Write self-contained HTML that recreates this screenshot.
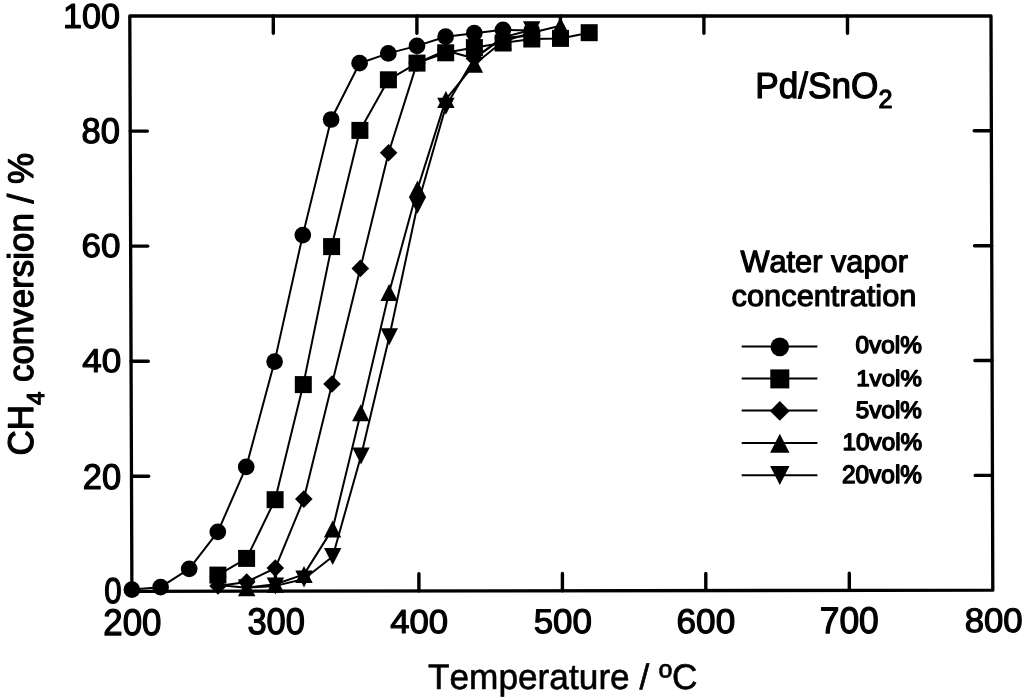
<!DOCTYPE html>
<html><head><meta charset="utf-8"><style>
html,body{margin:0;padding:0;background:#fff;}
svg{display:block;}
text{text-rendering:geometricPrecision;font-kerning:none;font-feature-settings:"kern" 0;font-family:"Liberation Sans",Arial,sans-serif;fill:#000;stroke:#000;stroke-width:1.2px;stroke-linejoin:round;}
.lg{stroke-width:1.5px;}
.ti{stroke-width:0.6px;}
.t{font-size:35px;}
.h{font-size:31.5px;}
.lg{font-size:25.5px;}
.ln{fill:none;stroke:#000;stroke-width:2.0;stroke-linejoin:round;}
</style></head><body>
<svg width="1024" height="700" viewBox="0 0 1024 700">
<rect width="1024" height="700" fill="#fff"/>
<g fill="#000">
<polyline class="ln" points="131.9,589.6 160.6,587.2 189.2,568.8 217.8,531.9 246.2,466.9 274.6,361.6 302.8,235.1 331.1,119.5 359.6,63.2 388.3,53.4 417.0,45.9 445.6,36.7 474.3,33.2 503.0,29.8 531.7,30.4"/>
<polyline class="ln" points="217.9,575.1 246.6,558.4 275.1,499.7 303.3,384.6 331.6,246.6 359.9,130.4 388.4,79.8 417.0,63.1 445.7,52.8 474.4,47.6 503.1,43.0 531.8,39.0 560.5,38.4 589.2,32.7"/>
<polyline class="ln" points="218.0,586.0 246.7,582.0 275.3,568.1 303.8,499.1 332.0,384.0 360.3,268.4 388.6,152.8 417.0,63.1 445.7,50.5 474.4,58.5 503.1,37.8 531.8,35.5"/>
<polyline class="ln" points="246.7,587.7 275.4,584.2 304.0,574.4 332.6,528.9 360.8,412.8 389.1,292.6 417.5,189.1 445.9,99.4 474.4,64.3 503.1,41.3 531.8,32.7 560.4,25.8"/>
<polyline class="ln" points="218.0,584.9 246.7,587.7 275.4,585.9 304.0,579.0 332.7,556.5 361.0,455.9 389.3,336.8 417.5,205.2 445.9,106.3 474.4,58.0 503.1,37.3 531.7,29.8"/>
<circle cx="131.9" cy="589.6" r="8.35"/>
<circle cx="160.6" cy="587.2" r="8.35"/>
<circle cx="189.2" cy="568.8" r="8.35"/>
<circle cx="217.8" cy="531.9" r="8.35"/>
<circle cx="246.2" cy="466.9" r="8.35"/>
<circle cx="274.6" cy="361.6" r="8.35"/>
<circle cx="302.8" cy="235.1" r="8.35"/>
<circle cx="331.1" cy="119.5" r="8.35"/>
<circle cx="359.6" cy="63.2" r="8.35"/>
<circle cx="388.3" cy="53.4" r="8.35"/>
<circle cx="417.0" cy="45.9" r="8.35"/>
<circle cx="445.6" cy="36.7" r="8.35"/>
<circle cx="474.3" cy="33.2" r="8.35"/>
<circle cx="503.0" cy="29.8" r="8.35"/>
<circle cx="531.7" cy="30.4" r="8.35"/>
<rect x="209.4" y="566.6" width="17.0" height="17.0"/>
<rect x="238.1" y="549.9" width="17.0" height="17.0"/>
<rect x="266.6" y="491.2" width="17.0" height="17.0"/>
<rect x="294.8" y="376.1" width="17.0" height="17.0"/>
<rect x="323.1" y="238.1" width="17.0" height="17.0"/>
<rect x="351.4" y="121.9" width="17.0" height="17.0"/>
<rect x="379.9" y="71.3" width="17.0" height="17.0"/>
<rect x="408.5" y="54.6" width="17.0" height="17.0"/>
<rect x="437.2" y="44.3" width="17.0" height="17.0"/>
<rect x="465.9" y="39.1" width="17.0" height="17.0"/>
<rect x="494.6" y="34.5" width="17.0" height="17.0"/>
<rect x="523.3" y="30.5" width="17.0" height="17.0"/>
<rect x="552.0" y="29.9" width="17.0" height="17.0"/>
<rect x="580.7" y="24.2" width="17.0" height="17.0"/>
<polygon points="218.0,577.2 226.8,586.0 218.0,594.8 209.2,586.0"/>
<polygon points="246.7,573.2 255.5,582.0 246.7,590.8 237.9,582.0"/>
<polygon points="275.3,559.3 284.1,568.1 275.3,576.9 266.5,568.1"/>
<polygon points="303.8,490.3 312.6,499.1 303.8,507.9 295.0,499.1"/>
<polygon points="332.0,375.2 340.8,384.0 332.0,392.8 323.2,384.0"/>
<polygon points="360.3,259.6 369.1,268.4 360.3,277.2 351.5,268.4"/>
<polygon points="388.6,144.0 397.4,152.8 388.6,161.6 379.8,152.8"/>
<polygon points="417.0,54.3 425.8,63.1 417.0,71.9 408.2,63.1"/>
<polygon points="445.7,41.7 454.5,50.5 445.7,59.3 436.9,50.5"/>
<polygon points="474.4,49.7 483.2,58.5 474.4,67.3 465.6,58.5"/>
<polygon points="503.1,29.0 511.9,37.8 503.1,46.6 494.3,37.8"/>
<polygon points="531.8,26.7 540.6,35.5 531.8,44.3 523.0,35.5"/>
<polygon points="246.7,579.2 255.4,596.2 238.0,596.2"/>
<polygon points="275.4,575.7 284.1,592.7 266.7,592.7"/>
<polygon points="304.0,565.9 312.7,582.9 295.3,582.9"/>
<polygon points="332.6,520.4 341.3,537.4 323.9,537.4"/>
<polygon points="360.8,404.3 369.5,421.3 352.1,421.3"/>
<polygon points="389.1,284.1 397.8,301.1 380.4,301.1"/>
<polygon points="417.5,180.6 426.2,197.6 408.8,197.6"/>
<polygon points="445.9,90.9 454.6,107.9 437.2,107.9"/>
<polygon points="474.4,55.8 483.1,72.8 465.7,72.8"/>
<polygon points="503.1,32.8 511.8,49.8 494.4,49.8"/>
<polygon points="531.8,24.2 540.5,41.2 523.1,41.2"/>
<polygon points="560.4,17.3 569.1,34.3 551.7,34.3"/>
<polygon points="209.3,576.4 226.7,576.4 218.0,593.4"/>
<polygon points="238.0,579.2 255.4,579.2 246.7,596.2"/>
<polygon points="266.7,577.4 284.1,577.4 275.4,594.4"/>
<polygon points="295.3,570.5 312.7,570.5 304.0,587.5"/>
<polygon points="324.0,548.0 341.4,548.0 332.7,565.0"/>
<polygon points="352.3,447.4 369.7,447.4 361.0,464.4"/>
<polygon points="380.6,328.3 398.0,328.3 389.3,345.3"/>
<polygon points="408.8,196.7 426.2,196.7 417.5,213.7"/>
<polygon points="437.2,97.8 454.6,97.8 445.9,114.8"/>
<polygon points="465.7,49.5 483.1,49.5 474.4,66.5"/>
<polygon points="494.4,28.8 511.8,28.8 503.1,45.8"/>
<polygon points="523.0,21.3 540.4,21.3 531.7,38.3"/>
</g>
<polygon points="129.8,16.0 991.0,16.0 992.8,590.2 131.9,591.3" fill="none" stroke="#000" stroke-width="3.3" stroke-linejoin="round"/>
<path d="M275.4 591.1V573.9M273.3 16.0V33.2M418.9 590.9V573.7M416.9 16.0V33.2M562.4 590.8V573.5M560.4 16.0V33.2M705.8 590.6V573.4M703.9 16.0V33.2M849.3 590.4V573.2M847.5 16.0V33.2M131.5 476.2H148.7M992.4 475.4H975.2M131.1 361.2H148.3M992.1 360.5H974.9M130.6 246.1H147.8M991.7 245.7H974.5M130.2 131.1H147.4M991.4 130.8H974.2" stroke="#000" stroke-width="3.4" stroke-linecap="round" fill="none"/>
<g transform="matrix(0.8903 0 0 1.0245 14.65 -15.91)"><text class="t" x="120" y="603.8" text-anchor="end">0</text></g>
<g transform="matrix(0.9833 0 0 1.0200 3.16 -9.82)"><text class="t" x="120" y="488.7" text-anchor="end">20</text></g>
<g transform="matrix(0.9996 0 0 0.9443 1.27 19.44)"><text class="t" x="120" y="373.7" text-anchor="end">40</text></g>
<g transform="matrix(0.9999 0 0 0.9453 0.36 12.69)"><text class="t" x="120" y="258.6" text-anchor="end">60</text></g>
<g transform="matrix(0.9856 0 0 1.0206 1.71 -3.46)"><text class="t" x="120" y="143.6" text-anchor="end">80</text></g>
<g transform="matrix(0.9753 0 0 0.9900 3.03 0.04)"><text class="t" x="120" y="28.5" text-anchor="end">100</text></g>
<g transform="matrix(0.9957 0 0 1.0590 1.06 -37.31)"><text class="t" x="131.9" y="634.5" text-anchor="middle">200</text></g>
<g transform="matrix(0.9834 0 0 1.0593 5.30 -37.80)"><text class="t" x="275.4" y="634.5" text-anchor="middle">300</text></g>
<g transform="matrix(0.9926 0 0 0.9488 3.38 30.71)"><text class="t" x="418.9" y="634.5" text-anchor="middle">400</text></g>
<g transform="matrix(0.9992 0 0 0.9776 0.89 12.97)"><text class="t" x="562.4" y="634.5" text-anchor="middle">500</text></g>
<g transform="matrix(1.0037 0 0 0.9779 -2.53 12.88)"><text class="t" x="705.8" y="634.5" text-anchor="middle">600</text></g>
<g transform="matrix(1.0118 0 0 1.0572 -10.09 -37.34)"><text class="t" x="849.3" y="634.5" text-anchor="middle">700</text></g>
<g transform="matrix(0.9938 0 0 0.9730 7.04 15.07)"><text class="t" x="992.8" y="634.5" text-anchor="middle">800</text></g>
<g transform="matrix(1.0073 0 0 1.0178 -3.43 -13.16)"><text class="t ti" x="562" y="689.5" text-anchor="middle">Temperature / ºC</text></g>
<g transform="matrix(1.0210 0 0 0.9979 -1.12 1.91)"><text class="t" transform="translate(33.5 303) rotate(-90)" text-anchor="middle">CH<tspan font-size="24" dy="11">4</tspan><tspan dy="-11"> conversion / %</tspan></text></g>
<g transform="matrix(1.0053 0 0 1.0384 -5.82 -4.23)"><text class="t" x="757" y="98">Pd/SnO<tspan font-size="25" dy="10.5">2</tspan></text></g>
<g transform="matrix(0.9764 0 0 0.9827 20.11 4.87)"><text class="h" x="823.5" y="272.2" text-anchor="middle">Water vapor</text></g>
<g transform="matrix(0.9773 0 0 0.9497 19.21 15.38)"><text class="h" x="823.5" y="306.5" text-anchor="middle">concentration</text></g>
<g transform="matrix(0.9552 0 0 0.9379 42.05 19.89)"><text class="lg" x="921" y="355.5" text-anchor="end">0vol%</text></g>
<g transform="matrix(0.9445 0 0 0.8846 51.93 42.93)"><text class="lg" x="921" y="387.6" text-anchor="end">1vol%</text></g>
<g transform="matrix(0.9515 0 0 0.9360 45.55 25.61)"><text class="lg" x="921" y="419.6" text-anchor="end">5vol%</text></g>
<g transform="matrix(0.9540 0 0 0.9334 43.59 28.51)"><text class="lg" x="921" y="451.9" text-anchor="end">10vol%</text></g>
<g transform="matrix(0.9571 0 0 0.9838 40.54 6.62)"><text class="lg" x="921" y="484.2" text-anchor="end">20vol%</text></g>
<g fill="#000">
<path class="ln" d="M741.7 346.5H817.4"/>
<circle cx="779.8" cy="346.8" r="9.35"/>
<path class="ln" d="M741.7 378.6H817.4"/>
<rect x="770.3" y="369.4" width="19.0" height="19.0"/>
<path class="ln" d="M741.7 410.6H817.4"/>
<polygon points="779.8,401.0 789.7,410.9 779.8,420.8 769.9,410.9"/>
<path class="ln" d="M741.7 442.9H817.4"/>
<polygon points="779.8,433.7 789.5,452.7 770.1,452.7"/>
<path class="ln" d="M741.7 475.2H817.4"/>
<polygon points="770.1,466.0 789.5,466.0 779.8,485.0"/>
</g>
</svg>
</body></html>
